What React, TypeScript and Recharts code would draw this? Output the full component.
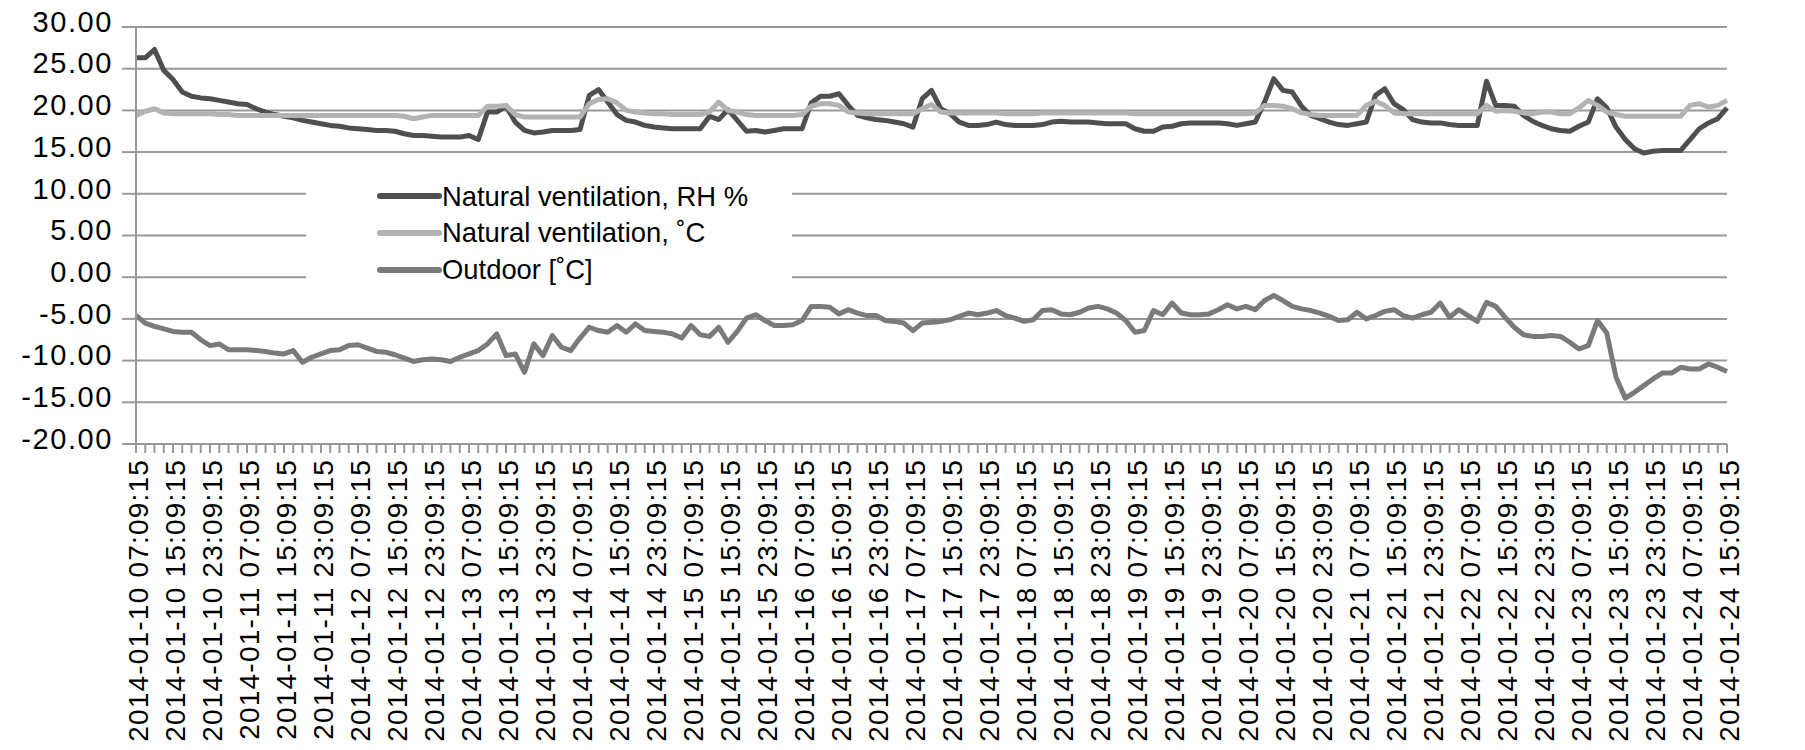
import React from 'react';
import { LineChart, Line, XAxis, YAxis, CartesianGrid, Legend } from 'recharts';

const FONT = '"Liberation Sans", Arial, Helvetica, sans-serif';

const TICK_LABELS = [
  '2014-01-10 07:09:15', '2014-01-10 15:09:15', '2014-01-10 23:09:15',
  '2014-01-11 07:09:15', '2014-01-11 15:09:15', '2014-01-11 23:09:15',
  '2014-01-12 07:09:15', '2014-01-12 15:09:15', '2014-01-12 23:09:15',
  '2014-01-13 07:09:15', '2014-01-13 15:09:15', '2014-01-13 23:09:15',
  '2014-01-14 07:09:15', '2014-01-14 15:09:15', '2014-01-14 23:09:15',
  '2014-01-15 07:09:15', '2014-01-15 15:09:15', '2014-01-15 23:09:15',
  '2014-01-16 07:09:15', '2014-01-16 15:09:15', '2014-01-16 23:09:15',
  '2014-01-17 07:09:15', '2014-01-17 15:09:15', '2014-01-17 23:09:15',
  '2014-01-18 07:09:15', '2014-01-18 15:09:15', '2014-01-18 23:09:15',
  '2014-01-19 07:09:15', '2014-01-19 15:09:15', '2014-01-19 23:09:15',
  '2014-01-20 07:09:15', '2014-01-20 15:09:15', '2014-01-20 23:09:15',
  '2014-01-21 07:09:15', '2014-01-21 15:09:15', '2014-01-21 23:09:15',
  '2014-01-22 07:09:15', '2014-01-22 15:09:15', '2014-01-22 23:09:15',
  '2014-01-23 07:09:15', '2014-01-23 15:09:15', '2014-01-23 23:09:15',
  '2014-01-24 07:09:15', '2014-01-24 15:09:15',
];

// one reading every 2 hours; a label every 4th reading
const POINTS_PER_LABEL = 4;

const RH = [
  26.3, 26.3, 27.3, 24.8, 23.7, 22.2, 21.7, 21.5, 21.4, 21.2,
  21.0, 20.8, 20.7, 20.2, 19.8, 19.5, 19.3, 19.1, 18.8, 18.6,
  18.4, 18.2, 18.1, 17.9, 17.8, 17.7, 17.6, 17.6, 17.5, 17.2,
  17.0, 17.0, 16.9, 16.8, 16.8, 16.8, 17.0, 16.5, 19.8, 19.8,
  20.5, 18.6, 17.6, 17.3, 17.4, 17.6, 17.6, 17.6, 17.7, 21.8,
  22.5, 21.0, 19.5, 18.8, 18.6, 18.2, 18.0, 17.9, 17.8, 17.8,
  17.8, 17.8, 19.3, 18.9, 20.1, 18.8, 17.5, 17.6, 17.4, 17.6,
  17.8, 17.8, 17.8, 20.9, 21.7, 21.7, 22.0, 20.6, 19.4, 19.1,
  18.9, 18.8, 18.6, 18.4, 18.0, 21.4, 22.4, 20.2, 19.6, 18.6,
  18.2, 18.2, 18.3, 18.6, 18.3, 18.2, 18.2, 18.2, 18.3, 18.6,
  18.7, 18.6, 18.6, 18.6, 18.5, 18.4, 18.4, 18.4, 17.8, 17.5,
  17.5, 18.0, 18.1, 18.4, 18.5, 18.5, 18.5, 18.5, 18.4, 18.2,
  18.4, 18.6, 21.0, 23.8, 22.4, 22.2, 20.5, 19.4, 19.0, 18.6,
  18.3, 18.2, 18.4, 18.6, 21.8, 22.6, 20.8, 20.1, 18.9, 18.6,
  18.5, 18.5, 18.3, 18.2, 18.2, 18.2, 23.5, 20.6, 20.6, 20.5,
  19.4, 18.7, 18.2, 17.8, 17.6, 17.5, 18.1, 18.6, 21.4, 20.3,
  18.0, 16.5, 15.4, 14.9, 15.1, 15.2, 15.2, 15.2, 16.5, 17.8,
  18.5, 19.0, 20.3,
];

const INDOOR_T = [
  19.4, 19.9, 20.2, 19.7, 19.6, 19.6, 19.6, 19.6, 19.6, 19.5,
  19.5, 19.4, 19.4, 19.4, 19.4, 19.4, 19.4, 19.4, 19.4, 19.4,
  19.4, 19.4, 19.4, 19.4, 19.4, 19.4, 19.4, 19.4, 19.4, 19.3,
  19.0, 19.2, 19.4, 19.4, 19.4, 19.4, 19.4, 19.4, 20.5, 20.5,
  20.6, 19.5, 19.2, 19.2, 19.2, 19.2, 19.2, 19.2, 19.2, 20.8,
  21.3, 21.4, 20.9, 20.0, 19.8, 19.7, 19.6, 19.6, 19.5, 19.5,
  19.5, 19.5, 19.8, 21.0, 20.0, 19.8, 19.5, 19.4, 19.4, 19.4,
  19.4, 19.4, 19.5, 20.5, 20.8, 20.8, 20.6, 19.8, 19.7, 19.6,
  19.6, 19.6, 19.6, 19.6, 19.6, 20.2, 20.7, 19.8, 19.7, 19.7,
  19.7, 19.7, 19.7, 19.7, 19.6, 19.6, 19.6, 19.6, 19.7, 19.7,
  19.7, 19.7, 19.7, 19.7, 19.7, 19.7, 19.7, 19.7, 19.6, 19.6,
  19.6, 19.6, 19.6, 19.6, 19.6, 19.6, 19.6, 19.6, 19.6, 19.6,
  19.6, 19.7, 20.6, 20.6, 20.5, 20.2, 19.7, 19.5, 19.4, 19.4,
  19.4, 19.4, 19.4, 20.6, 21.1, 20.6, 19.7, 19.6, 19.6, 19.6,
  19.6, 19.6, 19.6, 19.6, 19.6, 19.6, 20.6, 19.9, 20.0, 19.9,
  19.7, 19.6, 19.8, 19.8, 19.6, 19.6, 20.3, 21.2, 20.6, 19.8,
  19.5, 19.3, 19.3, 19.3, 19.3, 19.3, 19.3, 19.3, 20.6, 20.8,
  20.4, 20.6, 21.2,
];

const OUTDOOR = [
  -4.6, -5.5, -5.9, -6.2, -6.5, -6.6, -6.6, -7.5, -8.2, -8.0,
  -8.7, -8.7, -8.7, -8.8, -8.9, -9.1, -9.2, -8.8, -10.2, -9.6,
  -9.2, -8.8, -8.7, -8.2, -8.1, -8.5, -8.9, -9.0, -9.3, -9.7,
  -10.1, -9.9, -9.8, -9.9, -10.1, -9.6, -9.2, -8.8, -8.0, -6.8,
  -9.4, -9.2, -11.4, -8.0, -9.4, -7.0, -8.4, -8.8, -7.3, -6.0,
  -6.4, -6.6, -5.8, -6.6, -5.6, -6.4, -6.5, -6.6, -6.8, -7.3,
  -5.8, -6.9, -7.1, -6.0, -7.8, -6.5, -4.9, -4.5, -5.2, -5.8,
  -5.8, -5.7, -5.2, -3.5, -3.5, -3.6, -4.4, -3.9, -4.3, -4.6,
  -4.6, -5.2, -5.3, -5.5, -6.4, -5.5, -5.4, -5.3, -5.1, -4.7,
  -4.3, -4.5, -4.3, -4.0, -4.6, -4.9, -5.3, -5.1, -4.0, -3.9,
  -4.4, -4.5, -4.2, -3.7, -3.5, -3.8, -4.3, -5.2, -6.6, -6.4,
  -4.0, -4.5, -3.1, -4.3, -4.5, -4.5, -4.4, -3.9, -3.3, -3.8,
  -3.5, -3.9, -2.8, -2.2, -2.8, -3.5, -3.8, -4.0, -4.3, -4.7,
  -5.2, -5.1, -4.2, -5.0, -4.6, -4.1, -3.9, -4.6, -4.9, -4.5,
  -4.2, -3.1, -4.8, -3.9, -4.6, -5.3, -3.0, -3.5, -4.8, -6.0,
  -6.9, -7.1, -7.1, -7.0, -7.1, -7.8, -8.6, -8.2, -5.2, -6.7,
  -12.0, -14.5, -13.8, -13.0, -12.2, -11.5, -11.5, -10.8, -11.0, -11.0,
  -10.4, -10.8, -11.3,
];

const Y_TICKS = [-20, -15, -10, -5, 0, 5, 10, 15, 20, 25, 30];

const SERIES = [
  { key: 'rh', name: 'Natural ventilation, RH %', color: '#4f4f4f' },
  { key: 'temp', name: 'Natural ventilation, \u02DAC', color: '#b3b3b3' },
  { key: 'out', name: 'Outdoor [\u02DAC]', color: '#7a7a7a' },
];

const data = RH.map((v, i) => ({ t: i, rh: v, temp: INDOOR_T[i], out: OUTDOOR[i] }));

const GRID = '#999999';

const XTick = (props: any) => {
  const { x, y, payload } = props;
  const i = Number(payload.value);
  if (i % POINTS_PER_LABEL !== 0) return <g />;
  return (
    <text
      x={x}
      y={y}
      transform={`rotate(-90, ${x}, ${y})`}
      textAnchor="end"
      dy="0.43em"
      fontSize={28}
      letterSpacing={1.2}
      fontFamily={FONT}
      fill="#000"
    >
      {TICK_LABELS[i / POINTS_PER_LABEL]}
    </text>
  );
};

const YTick = (props: any) => {
  const { x, y, payload } = props;
  return (
    <text x={x} y={y} dy={4.7} textAnchor="end" fontSize={29} letterSpacing={1.6} fontFamily={FONT} fill="#000">
      {Number(payload.value).toFixed(2)}
    </text>
  );
};

const LegendContent = () => (
  <div style={{ paddingTop: 10, paddingLeft: 71, fontFamily: FONT, fontSize: 27.4, color: '#000' }}>
    {SERIES.map((s) => (
      <div key={s.key} style={{ display: 'flex', alignItems: 'center', height: 36.7 }}>
        <svg width={65} height={10} style={{ display: 'block' }}>
          <line x1={3} y1={5} x2={62} y2={5} stroke={s.color} strokeWidth={6} strokeLinecap="round" />
        </svg>
        <span style={{ lineHeight: 1, whiteSpace: 'nowrap' }}>{s.name}</span>
      </div>
    ))}
  </div>
);

export default function App() {
  return (
    <div style={{ position: 'absolute', left: 0, top: 0, width: 1805, height: 750, background: '#fff' }}>
      <LineChart width={1805} height={750} data={data} margin={{ top: 27, right: 78, bottom: 0, left: 0 }}>
        <CartesianGrid horizontal vertical={false} stroke={GRID} strokeWidth={2} />
        <XAxis
          dataKey="t"
          type="category"
          interval={0}
          height={306}
          tickSize={9}
          tickMargin={6}
          stroke={GRID}
          strokeWidth={2}
          tick={XTick}
        />
        <YAxis
          type="number"
          domain={[-20, 30]}
          ticks={Y_TICKS}
          width={136}
          tickSize={14}
          tickMargin={9}
          stroke={GRID}
          strokeWidth={2}
          tick={YTick}
          allowDataOverflow
        />
        <Legend
          layout="vertical"
          align="center"
          verticalAlign="middle"
          content={LegendContent}
          wrapperStyle={{ left: 306, top: 168, width: 486, height: 128, background: '#fff' }}
        />
        {SERIES.map((s) => (
          <Line
            key={s.key}
            type="linear"
            dataKey={s.key}
            name={s.name}
            stroke={s.color}
            strokeWidth={5}
            strokeLinejoin="round"
            dot={false}
            activeDot={false}
            isAnimationActive={false}
          />
        ))}
      </LineChart>
    </div>
  );
}
